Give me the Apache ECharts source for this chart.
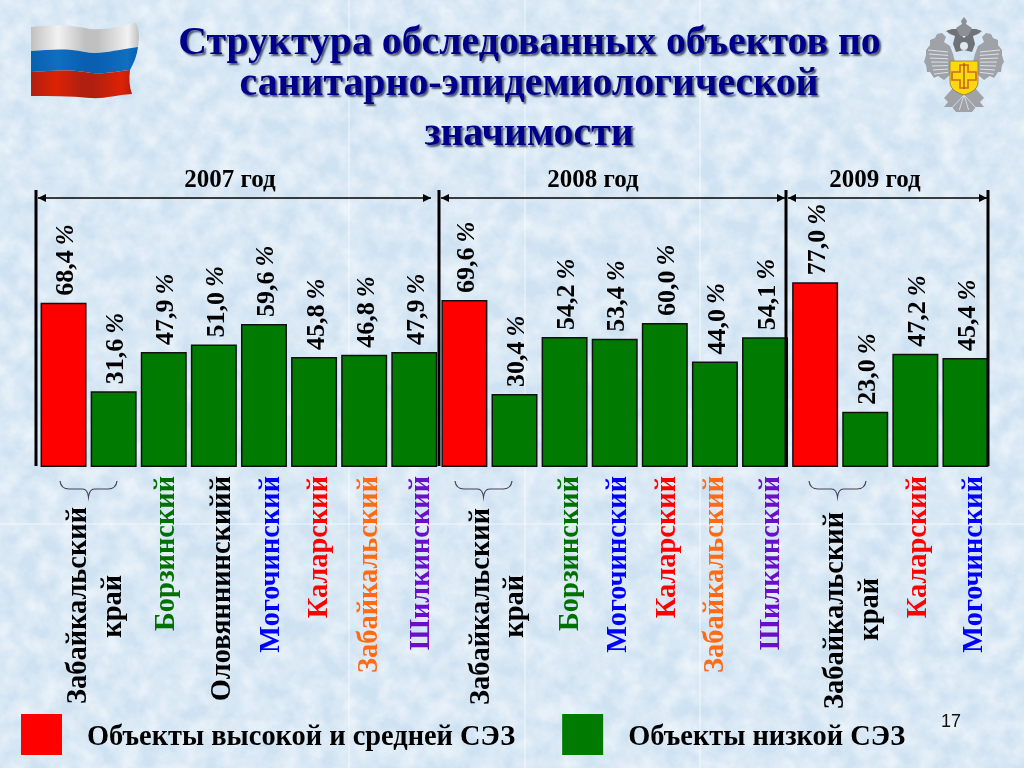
<!DOCTYPE html>
<html><head><meta charset="utf-8">
<script src="https://cdn.jsdelivr.net/npm/echarts@6/dist/echarts.min.js"></script>
<style>
html,body{margin:0;padding:0;width:1024px;height:768px;overflow:hidden;background-color:#cfe2f2;}
#tex{position:absolute;left:0;top:0;width:1024px;height:768px;}
#chart{position:absolute;left:0;top:0;width:1024px;height:768px;}
</style></head><body>
<svg id="tex" xmlns="http://www.w3.org/2000/svg" width="1024" height="768">
<filter id="n1" x="0" y="0" width="100%" height="100%"><feTurbulence type="fractalNoise" baseFrequency="0.05" numOctaves="5" seed="7"/><feColorMatrix values="0 0 0 0 1  0 0 0 0 1  0 0 0 0 1  1.0 0 0 0 -0.27"/></filter>
<rect width="1024" height="768" filter="url(#n1)"/>
</svg>
<div id="chart"></div>
<script>
const categories = ['Забайкальский','край','Борзинский','Оловяннинскийй','Могочинский','Каларский','Забайкальский','Шилкинский',
  'Забайкальский','край','Борзинский','Могочинский','Каларский','Забайкальский','Шилкинский',
  'Забайкальский','край','Каларский','Могочинский'];
const highValues = [68.4,null,null,null,null,null,null,null,69.6,null,null,null,null,null,null,77.0,null,null,null];
const lowValues = [null,31.6,47.9,51.0,59.6,45.8,46.8,47.9,null,30.4,54.2,53.4,60.0,44.0,54.1,null,23.0,47.2,45.4];
const seriesNames = ['Объекты высокой и средней СЭЗ','Объекты низкой СЭЗ'];
const titleLines = ['Структура обследованных объектов по','санитарно-эпидемиологической','значимости'];
const yearLabels = ['2007 год','2008 год','2009 год'];
const pageNumber = '17';

const labelColors = ['#000','#000','#007000','#000','#0000ff','#ff0000','#ff6a13','#6a0fc8',
  '#000','#000','#007000','#0000ff','#ff0000','#ff6a13','#6a0fc8','#000','#000','#ff0000','#0000ff'];
const shiftX = [15,0,3,9,8,6,5,7,17,1,6,4,3,1,7,21,5,3,9];
const shiftY = [31,99,0,0,0,0,0,0,32,99,0,0,0,0,0,36,102,0,0];

const SERIF = '"Liberation Serif","Times New Roman",serif';
const rich = {};
categories.forEach((c,i)=>{
  const s = shiftX[i];
  rich['c'+i] = {
    color: labelColors[i], fontFamily: SERIF, fontWeight:'bold', fontSize:28.4,
    padding:[s>0?2*s:0, shiftY[i], s<0?-2*s:0, 0]
  };
});
const fmtLabel = p => `{v|${p.value.toFixed(1).replace('.',',')}}{p|%}`;
const valueLabel = {show:true, position:'top', distance:7, rotate:90, align:'left', verticalAlign:'middle',
  color:'#000', formatter:fmtLabel,
  rich:{v:{fontFamily:SERIF,fontWeight:'bold',fontSize:26,color:'#000',padding:[6,0,0,0]},
        p:{fontFamily:SERIF,fontWeight:'bold',fontStyle:'italic',fontSize:25,color:'#000',padding:[6,0,0,5]}}};
const barBase = {type:'bar', barWidth:46, barGap:'-100%', label:valueLabel};

const G = echarts.graphic;
let pathCount = 0;
function pathEl(d, style, z){
  const name = 'svgp'+(pathCount++);
  G.registerShape(name, G.extendPath(d, {}));
  const el = {type:name, style};
  if(z!=null) el.z = z;
  return el;
}
const black = {stroke:'#000', lineWidth:3};
const g = [];
// tile seams
[349,525,700].forEach(x=>g.push({type:'line',z:-5,shape:{x1:x,y1:0,x2:x,y2:768},style:{stroke:'rgba(255,255,255,.7)',lineWidth:1}}));
g.push({type:'line',z:-5,shape:{x1:0,y1:524,x2:1024,y2:524},style:{stroke:'rgba(255,255,255,.7)',lineWidth:1}});
// year brackets
[36,439,786,988].forEach(x=>g.push({type:'line',z:5,shape:{x1:x,y1:190,x2:x,y2:466},style:black}));
[[38,431,230,0],[441,785,593,1],[788,987,875,2]].forEach(([a,b,c,k])=>{
  g.push({type:'line',shape:{x1:a,y1:198,x2:b,y2:198},style:{stroke:'#000',lineWidth:1.5}});
  g.push({type:'polygon',shape:{points:[[a,198],[a+8,194],[a+8,202]]},style:{fill:'#000'}});
  g.push({type:'polygon',shape:{points:[[b,198],[b-8,194],[b-8,202]]},style:{fill:'#000'}});
  g.push({type:'text',style:{text:yearLabels[k],x:c,y:181,align:'center',verticalAlign:'middle',font:'bold 25px '+SERIF,fill:'#000'}});
});
// braces
[60,455,809].forEach(x=>{
  const m=x+28.5,e=x+57;
  g.push(pathEl(`M${x} 481 Q${x+1} 489 ${x+9} 489 L${m-6} 489 Q${m-1} 489 ${m} 497 Q${m+1} 489 ${m+6} 489 L${e-9} 489 Q${e-1} 489 ${e} 481`,{fill:'none',stroke:'#445',lineWidth:1.2}));
});
// page number
g.push({type:'text',style:{text:pageNumber,x:951,y:722,align:'center',verticalAlign:'middle',font:'18px "Liberation Sans",Arial,sans-serif',fill:'#111'}});
// flag
const vg=(c1,c2)=>new G.LinearGradient(0,0,1,0,[{offset:0,color:c1},{offset:.25,color:c2},{offset:.5,color:c1},{offset:.62,color:c1},{offset:.9,color:c2},{offset:1,color:c1}]);
g.push(pathEl('M31 27 C60 24 75 26 90 29 C110 31 125 24 136 23 C140 30 139 40 138 47 C115 50 100 55 85 52 C65 48 50 50 31 51 Z',{fill:vg('#c0c0c0','#f2f2f2')}));
g.push(pathEl('M31 51 C50 50 65 48 85 52 C100 55 115 50 138 47 C137 55 134 63 130 70 C112 72 100 75 85 72 C65 69 50 71 31 72 Z',{fill:vg('#0a5fb0','#0f6fc0')}));
g.push(pathEl('M31 72 C50 71 65 69 85 72 C100 75 112 72 130 70 C129 78 129 86 132 94 C115 95 105 99 90 98 C70 96 50 96 31 96 Z',{fill:vg('#b02010','#dd2205')}));
// emblem: double-headed eagle, two mirrored halves
const W='#9fa3a8', D='#6f7276', L='#e4eaf0';
function mirror(pts){return pts.map(([x,y])=>[1928-x,y]);}
const wingL=[[951,74],[944,80],[938,76],[934,78],[930,72],[927,72],[926,65],[924,62],[926,55],[926,50],[930,45],[930,40],[935,38],[937,34],[942,33],[946,37],[944,42],[950,46],[953,54],[955,62]];
g.push({type:'polygon',shape:{points:wingL},style:{fill:W}});
g.push({type:'polygon',shape:{points:mirror(wingL)},style:{fill:W}});
for(let k=0;k<7;k++){
  const a=[[928+k,50+k*4],[948,52+k*3.4]];
  g.push({type:'line',shape:{x1:a[0][0],y1:a[0][1],x2:a[1][0],y2:a[1][1]},style:{stroke:L,lineWidth:.9}});
  g.push({type:'line',shape:{x1:1928-a[0][0],y1:a[0][1],x2:1928-a[1][0],y2:a[1][1]},style:{stroke:L,lineWidth:.9}});
}
// neck heads crown
const headL=[[964,50],[956,52],[953,44],[955,36],[950,34],[946,31],[952,29],[957,29],[962,36],[964,38]];
g.push({type:'polygon',shape:{points:headL},style:{fill:D}});
g.push({type:'polygon',shape:{points:mirror(headL)},style:{fill:D}});
g.push({type:'polygon',shape:{points:[[964,17],[967,21],[966,24],[972,28],[968,36],[960,36],[956,28],[962,24],[961,21]]},style:{fill:'#8d9095'}});
g.push({type:'circle',shape:{cx:964,cy:46,r:4},style:{fill:'#dfe8f0'}});
// tail and legs
const tailL=[[964,92],[953,88],[944,98],[948,102],[944,107],[952,107],[956,112],[964,112]];
g.push({type:'polygon',shape:{points:tailL},style:{fill:W}});
g.push({type:'polygon',shape:{points:mirror(tailL)},style:{fill:W}});
for(let k=0;k<4;k++) g.push({type:'line',shape:{x1:964,y1:95,x2:950+k*9.3,y2:110},style:{stroke:L,lineWidth:.8}});
// shield
g.push(pathEl('M950 61 L978 61 L978 82 C978 90 970 93 964 95 C958 93 950 90 950 82 Z',{fill:'#fbd80f',stroke:'#8a7a30',lineWidth:.8}));
g.push(pathEl('M960 65 L968 65 L968 72 L976 72 L976 80 L968 80 L968 88 L960 88 L960 80 L952 80 L952 72 L960 72 Z',{fill:'none',stroke:'#d2691e',lineWidth:1.6}));
g.push({type:'line',shape:{x1:964,y1:63,x2:964,y2:89},style:{stroke:'#a04a10',lineWidth:1.2}});

const titleStyle = {fontFamily:SERIF,fontWeight:'bold',color:'#00008b',textShadowColor:'rgba(20,30,60,.75)',textShadowBlur:2,textShadowOffsetX:2,textShadowOffsetY:2};
const chart = echarts.init(document.getElementById('chart'),null,{renderer:'canvas'});
chart.setOption({
  backgroundColor:'transparent',
  animation:false,
  title:[
    {text:titleLines[0],left:529.5,top:24,textAlign:'center',padding:0,textStyle:{...titleStyle,fontSize:39.8}},
    {text:titleLines[1],left:529,top:65,textAlign:'center',padding:0,textStyle:{...titleStyle,fontSize:39.8}},
    {text:titleLines[2],left:529,top:115,textAlign:'center',padding:0,textStyle:{...titleStyle,fontSize:39.8}}
  ],
  legend:{left:21,top:714,padding:0,itemWidth:41,itemHeight:41,itemGap:47,icon:'rect',selectedMode:false,
    data:seriesNames,
    itemStyle:{borderWidth:0},
    formatter:n=>`{t|${n}}`,
    textStyle:{rich:{t:{color:'#000',fontFamily:SERIF,fontWeight:'bold',fontSize:28.4,padding:[7,0,0,20]}}}},
  grid:{left:38.5,right:33.5,top:227,bottom:301},
  xAxis:{type:'category',data:categories,axisLine:{show:false},axisTick:{show:false},
    axisLabel:{interval:0,rotate:90,margin:9,align:'right',verticalAlign:'middle',rich,
      formatter:(v,i)=>`{c${i}|${v}}`}},
  yAxis:{type:'value',min:0,max:100,show:false},
  series:[
    {...barBase,name:seriesNames[0],data:highValues,itemStyle:{color:'#ff0000',borderColor:'#111',borderWidth:1.5}},
    {...barBase,name:seriesNames[1],data:lowValues,itemStyle:{color:'#007a00',borderColor:'#111',borderWidth:1.5}}
  ],
  graphic:g
});
</script></body></html>
